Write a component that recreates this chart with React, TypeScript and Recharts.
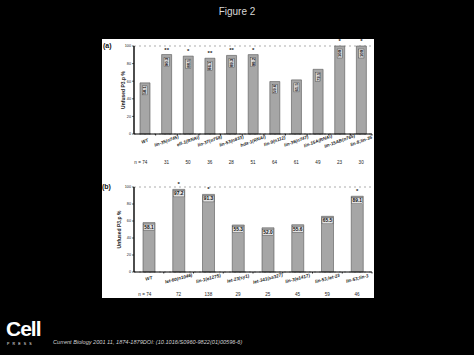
import { Bar, BarChart, CartesianGrid, LabelList, XAxis, YAxis } from 'recharts'

const catsA = ['WT', 'lin-35(n745)', 'efl-1(RNAi)', 'lin-37(n758)', 'lin-53(n833)', 'hda-1(RNAi)', 'lin-9(n112)', 'lin-36(n747)', 'lin-15A(RNAi)', 'lin-15AB(n765)', 'lin-8;lin-35']
const valsA = [58.1, 90.3, 88.5, 86.1, 89.3, 90.2, 59.6, 61.5, 73.5, 100, 100]
const starsA = ['', '**', '*', '**', '**', '*', '', '', '', '*', '*']
const nA = [74, 31, 50, 36, 28, 51, 64, 61, 49, 23, 30]

const catsB = ['WT', 'let-60(n1046)', 'lin-1(e1275)', 'let-23(sy1)', 'let-341(sa327)', 'lin-3(e1417)', 'lin-53;let-23', 'lin-53;lin-3']
const valsB = [58.1, 97.2, 91.3, 55.3, 52.0, 55.6, 65.5, 89.1]
const starsB = ['', '*', '*', '', '', '', '', '*']
const nB = [74, 72, 138, 29, 25, 45, 59, 46]

const yTicks = [0, 20, 40, 60, 80, 100]

const dataA = catsA.map((name, i) => ({ name, value: valsA[i] }))
const dataB = catsB.map((name, i) => ({ name, value: valsB[i] }))

const FONT = '"Liberation Sans", Arial, sans-serif'
const fmt = (v: number) => (v >= 100 ? '100' : v.toFixed(1))

function makeTick(n: number[], step: number, rot: number, dy: number, ny: number) {
  return (props: any) => {
    const { x, y, payload, index } = props
    return (
      <g>
        <line x1={x + step / 2} x2={x + step / 2} y1={y} y2={y + 1.5} stroke="#000" strokeWidth={0.8} />
        <text
          x={x}
          y={y + dy}
          transform={`rotate(${rot}, ${x}, ${y + dy})`}
          textAnchor="middle"
          dominantBaseline="central"
          fontSize={4.6}
          fontWeight="bold"
          fontStyle="italic"
          fontFamily={FONT}
          fill="#222"
        >
          {payload.value}
        </text>
        {index === 0 && (
          <text x={x - 4} y={y + ny} textAnchor="end" dominantBaseline="central" fontSize={4.6} fontFamily={FONT} fill="#222">
            n =
          </text>
        )}
        <text x={x} y={y + ny} textAnchor="middle" dominantBaseline="central" fontSize={4.6} fontFamily={FONT} fill="#222">
          {n[index]}
        </text>
      </g>
    )
  }
}

function yLabel(dx: number) {
  return (props: any) => {
    const vb = props.viewBox || { x: 0, y: 0, width: 0, height: 0 }
    const cx = vb.x + dx
    const cy = vb.y + vb.height / 2
    return (
      <text x={cx} y={cy} transform={`rotate(-90, ${cx}, ${cy})`} textAnchor="middle" dominantBaseline="central" fontSize={5} fontWeight="bold" fontFamily={FONT} fill="#222">
        Unfused P3.p %
      </text>
    )
  }
}

function starLabel(stars: string[]) {
  return (props: any) => {
    const { x, y, width, index } = props
    if (!stars[index]) return null
    return (
      <text x={x + width / 2} y={y - 3} textAnchor="middle" fontSize={6} fontWeight="bold" fontFamily={FONT} fill="#222">
        {stars[index]}
      </text>
    )
  }
}

function valueLabelA(props: any) {
  const { x, y, width, value } = props
  const cx = x + width / 2
  const cy = y + 7.5
  return (
    <g>
      <rect x={cx - 2.6} y={y + 3} width={5.2} height={9} fill="#d6d6d6" stroke="#444" strokeWidth={0.4} />
      <text x={cx} y={cy} transform={`rotate(-90, ${cx}, ${cy})`} textAnchor="middle" dominantBaseline="central" fontSize={4.3} fontWeight="bold" fontFamily={FONT} fill="#111">
        {fmt(value)}
      </text>
    </g>
  )
}

function valueLabelB(props: any) {
  const { x, y, width, value } = props
  return (
    <g>
      <rect x={x + 0.5} y={y + 1.5} width={width - 1} height={6} fill="#e2e2e2" stroke="#444" strokeWidth={0.4} />
      <text x={x + width / 2} y={y + 4.6} textAnchor="middle" dominantBaseline="central" fontSize={4.8} fontWeight="bold" fontFamily={FONT} fill="#111">
        {fmt(value)}
      </text>
    </g>
  )
}

function Panel({ data, stars, n, w, h, top, xh, barSize, rot, dy, ny, valueLabel, ylx }: any) {
  const step = (w - 32 - 2) / data.length
  return (
    <BarChart width={w} height={h} data={data} margin={{ top, right: 2, left: 0, bottom: 0 }} barCategoryGap={0}>
      <CartesianGrid vertical={false} stroke="#8a8a8a" strokeDasharray="2 3" strokeWidth={0.7} />
      <XAxis
        dataKey="name"
        interval={0}
        height={xh}
        tickLine={false}
        tickSize={0}
        tickMargin={0}
        axisLine={{ stroke: '#000', strokeWidth: 1.2 }}
        tick={makeTick(n, step, rot, dy, ny)}
      />
      <YAxis
        yAxisId="l"
        width={32}
        domain={[0, 100]}
        ticks={yTicks}
        tickSize={2}
        tickMargin={1}
        axisLine={{ stroke: '#000', strokeWidth: 1.4 }}
        tickLine={{ stroke: '#000', strokeWidth: 0.6 }}
        tick={{ fontSize: 3.8, fill: '#222', fontFamily: FONT }}
        label={{ content: yLabel(ylx) }}
      />
      <YAxis
        yAxisId="r"
        orientation="right"
        width={0}
        domain={[0, 100]}
        ticks={yTicks}
        tick={false}
        tickLine={false}
        axisLine={{ stroke: '#8a8a8a', strokeDasharray: '2 3', strokeWidth: 0.7 }}
      />
      <Bar yAxisId="l" dataKey="value" barSize={barSize} fill="#a6a6a6" stroke="#555" strokeWidth={0.6} isAnimationActive={false}>
        <LabelList dataKey="value" content={valueLabel} />
        <LabelList dataKey="value" content={starLabel(stars)} />
      </Bar>
    </BarChart>
  )
}

export default function App() {
  return (
    <div style={{ position: 'fixed', left: 0, top: 0, width: 474, height: 355, background: '#000', overflow: 'hidden', fontFamily: FONT }}>
      <div style={{ position: 'absolute', left: 0, width: 474, top: 6, textAlign: 'center', color: '#d8d8d8', fontSize: 10 }}>Figure 2</div>
      <div style={{ position: 'absolute', left: 102, top: 39, width: 272, height: 259, background: '#fff' }} />
      <div style={{ position: 'absolute', left: 102, top: 39 }}>
        <Panel data={dataA} stars={starsA} n={nA} w={272} h={130} top={7} xh={35} barSize={10} rot={-20} dy={7} ny={28} valueLabel={valueLabelA} ylx={21} />
      </div>
      <div style={{ position: 'absolute', left: 102, top: 169 }}>
        <Panel data={dataB} stars={starsB} n={nB} w={272} h={129} top={18} xh={26} barSize={12} rot={-15} dy={6.5} ny={22} valueLabel={valueLabelB} ylx={17} />
      </div>
      <div style={{ position: 'absolute', left: 103, top: 42, fontSize: 7, fontWeight: 'bold', color: '#111' }}>(a)</div>
      <div style={{ position: 'absolute', left: 102, top: 183, fontSize: 7, fontWeight: 'bold', color: '#111' }}>(b)</div>
      <div style={{ position: 'absolute', left: 6, top: 317, fontSize: 21, fontWeight: 'bold', color: '#fff', letterSpacing: -1 }}>Cell</div>
      <div style={{ position: 'absolute', left: 7, top: 342, fontSize: 3.5, color: '#fff', letterSpacing: 3.2 }}>PRESS</div>
      <div style={{ position: 'absolute', left: 53, top: 339, fontSize: 5.6, fontStyle: 'italic', color: '#d0d0d0', whiteSpace: 'nowrap' }}>
        Current Biology 2001 11, 1874-1879DOI: (10.1016/S0960-9822(01)00596-6)
      </div>
    </div>
  )
}
